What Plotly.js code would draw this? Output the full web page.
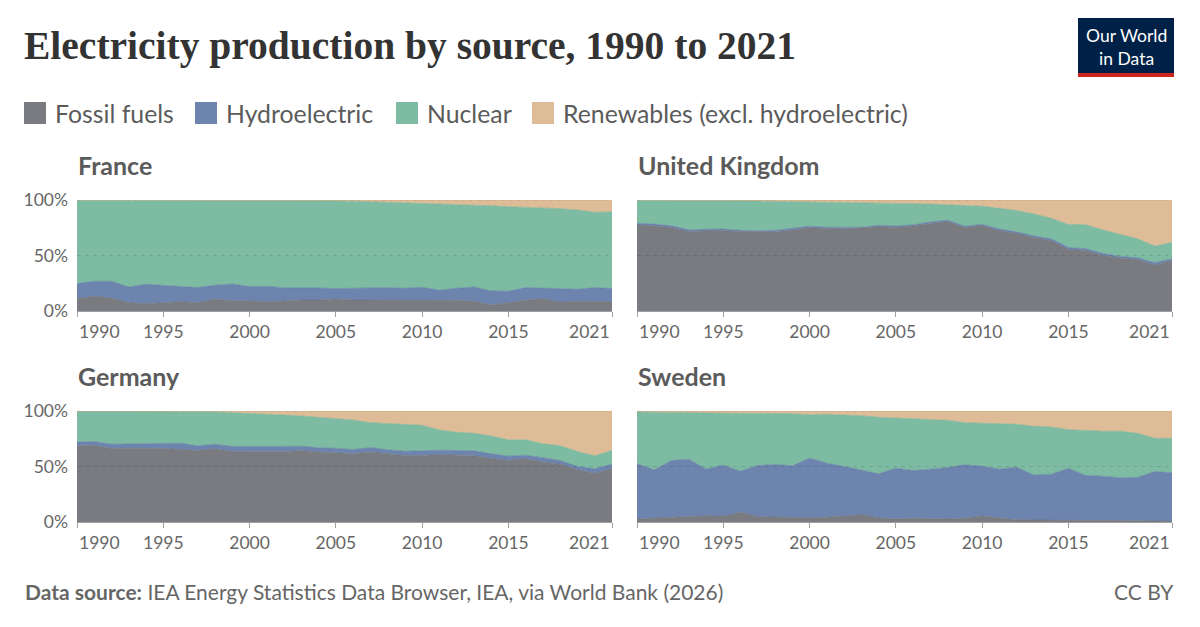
<!DOCTYPE html>
<html>
<head>
<meta charset="utf-8">
<script src="https://cdn.plot.ly/plotly-3.0.1.min.js"></script>
<style>html,body{margin:0;padding:0;background:#fff;}#chart{width:1200px;height:627px;}</style>
</head>
<body>
<div id="chart"></div>
<script>
// ---- Data (shares of electricity production, %) ----
const years = [1990,1991,1992,1993,1994,1995,1996,1997,1998,1999,2000,2001,2002,2003,2004,2005,
               2006,2007,2008,2009,2010,2011,2012,2013,2014,2015,2016,2017,2018,2019,2020,2021];

const sources = ["Fossil fuels", "Hydroelectric", "Nuclear", "Renewables (excl. hydroelectric)"];
const sourceColors = ["#7a7b80", "#6d85ae", "#7dbca2", "#debc98"];
const sourceLines  = ["#6f7075", "#6179a3", "#72b196", "#d4b18c"];

const countries = ["France", "United Kingdom", "Germany", "Sweden"];

const franceFossil = [11.1,13.3,11.7,7.5,6.6,7.5,8.4,7.5,10.5,9.3,9.3,8.1,9.0,9.9,9.9,10.8,9.9,9.9,9.3,9.3,9.9,9.9,9.6,8.7,5.7,7.2,9.6,11.1,7.8,8.7,8.4,8.4];
const franceHydro  = [13.6,13.5,15.1,14.2,17.5,15.7,13.6,13.6,12.7,15.1,12.7,14.2,11.8,11.2,10.9,9.4,10.3,10.9,11.8,11.2,11.5,8.8,10.9,13.0,12.4,10.6,11.5,9.7,12.4,10.9,12.7,11.8];
const franceNuclear= [74.9,72.8,72.8,77.9,75.5,76.4,77.6,78.4,76.3,75.1,77.4,77.1,78.5,78.2,78.4,78.9,78.7,77.7,77.0,77.2,75.8,77.7,75.2,73.7,76.8,76.2,72.4,71.9,72.0,71.4,67.9,69.1];
const franceRenew  = [0.4,0.4,0.4,0.4,0.4,0.4,0.4,0.5,0.5,0.5,0.6,0.6,0.7,0.7,0.8,0.9,1.1,1.5,1.9,2.3,2.8,3.6,4.3,4.6,5.1,6.0,6.5,7.3,7.8,9.0,11.0,10.7];

const ukFossil  = [77.4,76.8,75.0,71.7,72.0,72.3,71.7,71.1,71.1,72.9,75.0,74.4,74.1,74.7,75.9,75.3,76.5,78.9,80.4,75.0,77.1,72.3,69.9,66.3,63.3,55.4,54.5,50.0,47.6,46.1,41.3,45.2];
const ukHydro   = [1.7,1.5,1.7,1.4,1.6,1.5,1.0,1.2,1.5,1.5,1.4,1.0,1.3,0.8,1.3,1.3,1.2,1.3,1.4,1.4,0.9,1.5,1.4,1.3,1.7,1.8,1.6,1.8,1.6,1.8,2.2,1.7];
const ukNuclear = [20.4,21.2,22.7,26.2,25.6,25.3,26.4,26.7,26.1,24.1,22.0,22.8,22.6,22.2,20.2,20.4,19.0,16.1,13.8,18.3,16.4,18.7,19.2,19.9,18.5,20.8,21.6,21.2,19.8,17.1,15.0,14.8];
const ukRenew   = [0.5,0.5,0.6,0.7,0.8,0.9,0.9,1.0,1.3,1.5,1.6,1.8,2.0,2.3,2.6,3.0,3.3,3.7,4.4,5.3,5.6,7.5,9.5,12.5,16.5,22.0,22.3,27.0,31.0,35.0,41.5,38.3];

const deFossil  = [68.6,68.9,66.2,65.9,66.2,66.2,65.6,64.4,65.9,63.5,63.2,63.2,63.2,64.4,62.9,62.3,61.4,62.9,61.1,59.9,59.9,60.8,60.2,59.6,57.2,55.4,56.9,53.9,52.1,47.0,43.7,48.2];
const deHydro   = [3.6,3.6,3.9,4.5,4.8,4.8,5.4,4.2,4.2,4.5,4.8,4.8,4.8,3.9,3.9,4.2,3.9,4.2,3.9,3.9,4.2,3.9,4.2,4.5,4.2,3.9,3.3,3.6,3.3,3.0,4.2,3.9];
const deNuclear = [27.6,27.3,29.6,29.3,28.6,28.5,28.4,30.7,28.9,30.5,29.6,29.3,28.4,27.2,27.5,26.6,26.6,22.4,23.6,23.6,23.0,18.2,16.4,15.8,16.1,14.7,13.8,12.9,13.2,13.5,11.7,12.3];
const deRenew   = [0.2,0.2,0.3,0.3,0.4,0.5,0.6,0.7,1.0,1.5,2.4,2.7,3.6,4.5,5.7,6.9,8.1,10.5,11.4,12.6,12.9,17.1,19.2,20.1,22.5,26.0,26.0,29.6,31.4,36.5,40.4,35.6];

const seFossil  = [2.7,3.6,4.2,4.8,5.7,5.1,8.7,4.8,4.5,4.5,3.6,4.2,5.1,6.6,3.6,2.7,3.3,2.7,2.7,3.3,5.4,3.6,2.1,1.8,1.5,1.5,1.5,1.5,1.2,0.9,0.6,0.6];
const seHydro   = [49.7,43.4,51.2,51.8,41.9,46.1,37.1,46.1,47.3,46.1,53.9,48.8,44.9,39.8,39.8,45.8,43.1,44.9,46.4,48.2,44.9,44.0,47.3,40.4,41.6,46.7,40.4,39.8,38.6,39.2,44.9,43.7];
const seNuclear = [46.7,52.1,43.1,41.9,50.6,47.0,52.1,47.0,45.8,47.0,39.2,44.0,46.4,49.4,50.9,45.5,46.7,44.6,42.5,38.0,38.6,40.4,38.6,44.0,42.5,35.0,40.4,40.4,41.9,39.8,29.9,31.1];
const seRenew   = [0.9,0.9,1.5,1.5,1.8,1.8,2.1,2.1,2.4,2.4,3.3,3.0,3.6,4.2,5.7,6.0,6.9,7.8,8.4,10.5,11.1,12.0,12.0,13.8,14.4,16.8,17.7,18.3,18.3,20.1,24.6,24.6];

const countryData = [
  [franceFossil, franceHydro, franceNuclear, franceRenew],
  [ukFossil, ukHydro, ukNuclear, ukRenew],
  [deFossil, deHydro, deNuclear, deRenew],
  [seFossil, seHydro, seNuclear, seRenew]
];

const xTickVals = [1990,1995,2000,2005,2010,2015,2021];
const xTickText = ["1990","1995","2000","2005","2010","2015","2021"];
const yTickVals = [0,50,100];
const yTickText = ["0%","50%","100%"];

// ---- Layout geometry (pixels) ----
const W = 1200, H = 627;
const px = v => v / W;
const py = v => 1 - v / H;
const panels = [
  {x0: 77,  x1: 612,  y0: 200, y1: 311, left: true},
  {x0: 637, x1: 1172, y0: 200, y1: 311, left: false},
  {x0: 77,  x1: 612,  y0: 411, y1: 522, left: true},
  {x0: 637, x1: 1172, y0: 411, y1: 522, left: false}
];

const traces = [];
countries.forEach((c, ci) => {
  const ax = ci === 0 ? "" : String(ci + 1);
  countryData[ci].forEach((vals, si) => {
    traces.push({
      type: "scatter", mode: "lines",
      x: years, y: vals,
      xaxis: "x" + ax, yaxis: "y" + ax,
      stackgroup: "g" + ci,
      groupnorm: si === 0 ? "percent" : undefined,
      fillcolor: sourceColors[si],
      line: {color: sourceLines[si], width: 0.6},
      name: sources[si],
      showlegend: false,
      hovertemplate: c + " %{x}: %{y:.1f}%<extra>" + sources[si] + "</extra>"
    });
  });
});

const grey = "#666";
const tickFontSize = 17.5;
const layout = {
  width: W, height: H,
  margin: {l: 0, r: 0, t: 0, b: 0},
  paper_bgcolor: "#fff", plot_bgcolor: "#fff",
  font: {family: "Lato, 'Noto Sans', sans-serif", color: grey, size: 16},
  showlegend: false,
  annotations: [],
  shapes: []
};

// middle tick labels drawn by the axis; first and last aligned to the plot edges
const innerText = xTickText.map((t, k) => (k === 0 || k === xTickText.length - 1) ? "" : t);

panels.forEach((p, i) => {
  const ax = i === 0 ? "" : String(i + 1);
  layout["xaxis" + ax] = {
    domain: [px(p.x0), px(p.x1)],
    anchor: "y" + ax,
    range: [1990, 2021],
    tickvals: xTickVals, ticktext: innerText,
    ticks: "outside", ticklen: 5, tickcolor: "#a0a0a0", tickwidth: 1,
    showline: true, linecolor: "#a0a0a0", linewidth: 1,
    showgrid: false, zeroline: false,
    tickfont: {family: "Lato", size: tickFontSize, color: grey},
    fixedrange: true
  };
  layout["yaxis" + ax] = {
    domain: [py(p.y1), py(p.y0)],
    anchor: "x" + ax,
    range: [0, 100],
    tickvals: yTickVals, ticktext: yTickText,
    showticklabels: p.left,
    ticks: "", showline: false, showgrid: false, zeroline: false,
    tickfont: {family: "Lato", size: tickFontSize, color: grey},
    ticklabelstandoff: 8,
    fixedrange: true
  };
  [50, 100].forEach(v => {
    layout.shapes.push({
      type: "line", xref: "x" + ax + " domain", yref: "y" + ax,
      x0: 0, x1: 1, y0: v, y1: v, layer: "above",
      line: {color: "rgba(0,0,0,0.12)", width: 1, dash: "4px,4px"}
    });
  });
  // edge tick labels
  const lastK = xTickVals.length - 1;
  layout.annotations.push({
    xref: "x" + ax, yref: "paper", x: xTickVals[0], y: py(p.y1 + 8),
    xanchor: "left", yanchor: "top", showarrow: false,
    text: xTickText[0], font: {family: "Lato", size: tickFontSize, color: grey}
  });
  layout.annotations.push({
    xref: "x" + ax, yref: "paper", x: xTickVals[lastK], y: py(p.y1 + 8),
    xanchor: "right", yanchor: "top", showarrow: false,
    text: xTickText[lastK], font: {family: "Lato", size: tickFontSize, color: grey}
  });
  layout.annotations.push({
    xref: "paper", yref: "paper", x: px(p.x0 - 1), y: py(p.y0 - 35),
    xanchor: "left", yanchor: "middle", showarrow: false,
    text: "<b>" + countries[i] + "</b>",
    font: {family: "Lato", size: 25, color: "#5b5b5b"}
  });
});

// Title
layout.annotations.push({
  xref: "paper", yref: "paper", x: px(22), y: py(46),
  xanchor: "left", yanchor: "middle", showarrow: false,
  text: "<b>Electricity production by source, 1990 to 2021</b>",
  font: {family: "'Liberation Serif', 'DejaVu Serif', serif", size: 39.5, color: "#333"}
});

// Legend (built from sources/colors arrays)
const legendX = [24, 195, 396, 532];
sources.forEach((s, i) => {
  layout.shapes.push({
    type: "rect", xref: "paper", yref: "paper",
    x0: px(legendX[i]), x1: px(legendX[i] + 22), y0: py(124), y1: py(102),
    fillcolor: sourceColors[i], line: {width: 0}
  });
  layout.annotations.push({
    xref: "paper", yref: "paper", x: px(legendX[i] + 29), y: py(113),
    xanchor: "left", yanchor: "middle", showarrow: false,
    text: s, font: {family: "Lato", size: 24.8, color: "#5b5b5b"}
  });
});

// Footer
layout.annotations.push({
  xref: "paper", yref: "paper", x: px(23), y: py(591),
  xanchor: "left", yanchor: "middle", showarrow: false,
  text: "<b>Data source:</b> IEA Energy Statistics Data Browser, IEA, via World Bank (2026)",
  font: {family: "Lato", size: 21, color: "#666"}
});
layout.annotations.push({
  xref: "paper", yref: "paper", x: px(1176), y: py(591),
  xanchor: "right", yanchor: "middle", showarrow: false,
  text: "CC BY", font: {family: "Lato", size: 21, color: "#666"}
});

// Logo
layout.shapes.push({
  type: "rect", xref: "paper", yref: "paper",
  x0: px(1078), x1: px(1174), y0: py(77), y1: py(18),
  fillcolor: "#002147", line: {width: 0}
});
layout.shapes.push({
  type: "rect", xref: "paper", yref: "paper",
  x0: px(1078), x1: px(1174), y0: py(77), y1: py(73),
  fillcolor: "#ce261e", line: {width: 0}
});
layout.annotations.push({
  xref: "paper", yref: "paper", x: px(1126), y: py(47),
  xanchor: "center", yanchor: "middle", showarrow: false,
  text: "Our World<br>in Data", align: "center",
  font: {family: "Lato", size: 17.5, color: "#fff"}
});

Plotly.newPlot("chart", traces, layout, {displayModeBar: false, staticPlot: true});
</script>
</body>
</html>
